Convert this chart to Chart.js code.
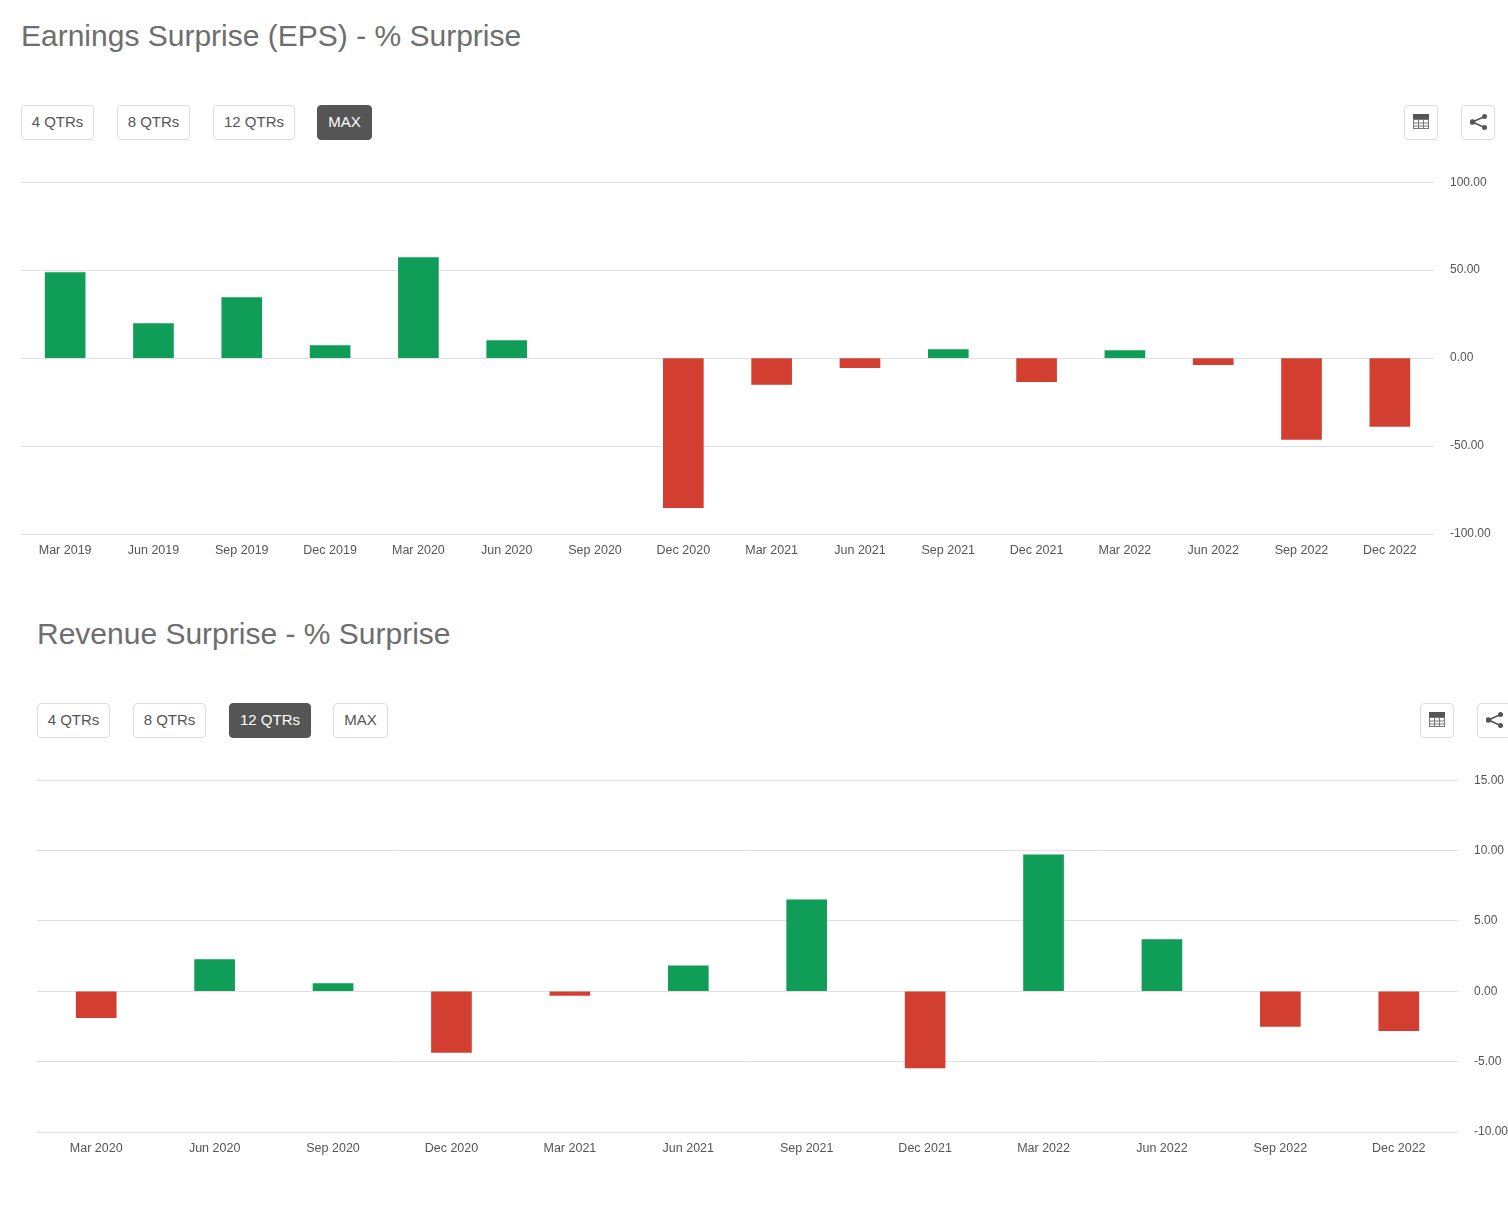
<!DOCTYPE html>
<html>
<head>
<meta charset="utf-8">
<title>Earnings and Revenue Surprise</title>
<script src="https://cdn.jsdelivr.net/npm/chart.js@4"></script>
<style>
  html, body { margin: 0; padding: 0; background: #fff; overflow: hidden; }
  body { width: 1508px; height: 1208px; position: relative; font-family: "Liberation Sans", Arial, sans-serif; }
  h2 { position: absolute; margin: 0; font-size: 30px; font-weight: 400; line-height: 36px; color: #6e6e6e; white-space: nowrap; }
  .btn {
    position: absolute; box-sizing: border-box; height: 35px; line-height: 32px; text-align: center;
    font-size: 15px; color: #555; background: #fff; border: 1px solid #ddd; border-radius: 4px;
  }
  .btn.active { background: #555; border-color: #555; color: #fff; }
  .icon { width: 34px; }
  .icon svg { position: absolute; left: 8px; top: 8px; }
  .chart-box { position: absolute; }
  .chart-box canvas { display: block; }
</style>
</head>
<body>
  <h2 style="left:21px;top:18px">Earnings Surprise (EPS) - % Surprise</h2>
  <div class="btn" style="left:21px;top:105px;width:73px">4 QTRs</div>
  <div class="btn" style="left:117px;top:105px;width:73px">8 QTRs</div>
  <div class="btn" style="left:213px;top:105px;width:82px">12 QTRs</div>
  <div class="btn active" style="left:317px;top:105px;width:55px">MAX</div>
  <div class="btn icon" style="left:1404px;top:105px"><svg width="16" height="16" viewBox="0 0 16 16"><use href="#tableIcon"/></svg></div>
  <div class="btn icon" style="left:1461px;top:105px"><svg width="18" height="18" viewBox="0 0 18 18"><use href="#shareIcon"/></svg></div>
  <div class="chart-box" style="left:21px;top:159px;width:1487px;height:411px"><canvas id="epsChart"></canvas></div>

  <h2 style="left:37px;top:616px">Revenue Surprise - % Surprise</h2>
  <div class="btn" style="left:37px;top:703px;width:73px">4 QTRs</div>
  <div class="btn" style="left:133px;top:703px;width:73px">8 QTRs</div>
  <div class="btn active" style="left:229px;top:703px;width:82px">12 QTRs</div>
  <div class="btn" style="left:333px;top:703px;width:55px">MAX</div>
  <div class="btn icon" style="left:1420px;top:703px"><svg width="16" height="16" viewBox="0 0 16 16"><use href="#tableIcon"/></svg></div>
  <div class="btn icon" style="left:1477px;top:703px"><svg width="18" height="18" viewBox="0 0 18 18"><use href="#shareIcon"/></svg></div>
  <div class="chart-box" style="left:37px;top:757px;width:1471px;height:411px"><canvas id="revenueChart"></canvas></div>

  <svg width="0" height="0" style="position:absolute">
    <defs>
      <g id="tableIcon">
        <rect x="0" y="0" width="16" height="15" fill="#777"/>
        <rect x="0" y="0" width="16" height="5" fill="#555"/>
        <g fill="#fff">
          <rect x="1" y="6" width="4" height="2.5"/><rect x="6" y="6" width="4" height="2.5"/><rect x="11" y="6" width="4" height="2.5"/>
          <rect x="1" y="9.5" width="4" height="2"/><rect x="6" y="9.5" width="4" height="2"/><rect x="11" y="9.5" width="4" height="2"/>
          <rect x="1" y="12.5" width="4" height="1.5"/><rect x="6" y="12.5" width="4" height="1.5"/><rect x="11" y="12.5" width="4" height="1.5"/>
        </g>
      </g>
      <g id="shareIcon" fill="#555" stroke="#555">
        <line x1="2.5" y1="8" x2="14.5" y2="2.5" stroke-width="1.6"/>
        <line x1="2.5" y1="8" x2="14.5" y2="13.5" stroke-width="1.6"/>
        <circle cx="2.5" cy="8" r="2.8" stroke="none"/>
        <circle cx="14.5" cy="2.5" r="2.5" stroke="none"/>
        <circle cx="14.5" cy="13.5" r="2.5" stroke="none"/>
      </g>
    </defs>
  </svg>

<script>
// ------------------ DATA ------------------
const epsQuarters = ["Mar 2019", "Jun 2019", "Sep 2019", "Dec 2019", "Mar 2020", "Jun 2020", "Sep 2020", "Dec 2020",
  "Mar 2021", "Jun 2021", "Sep 2021", "Dec 2021", "Mar 2022", "Jun 2022", "Sep 2022", "Dec 2022"];
// Sep 2020 has no visible bar
const epsSurprise = [48.6, 19.6, 34.4, 7.1, 57.1, 9.9, null, -85, -15, -5.4, 4.8, -13.4, 4.3, -3.7, -46.3, -38.9];
const epsTicks = [100, 50, 0, -50, -100];

const revenueQuarters = ["Mar 2020", "Jun 2020", "Sep 2020", "Dec 2020", "Mar 2021", "Jun 2021", "Sep 2021", "Dec 2021",
  "Mar 2022", "Jun 2022", "Sep 2022", "Dec 2022"];
const revenueSurprise = [-1.87, 2.25, 0.55, -4.35, -0.3, 1.8, 6.5, -5.45, 9.7, 3.67, -2.5, -2.8];
const revenueTicks = [15, 10, 5, 0, -5, -10];

// ------------------ CHARTS ------------------
const GREEN = "#0f9d58";
const RED = "#d23f31";
const GRID = "#e0e0e0";
const LABEL = "#555";

function drawSurpriseChart(canvasId, labels, values, ticks, axisWidth) {
  new Chart(document.getElementById(canvasId), {
    type: "bar",
    data: {
      labels: labels,
      datasets: [{
        data: values,
        barThickness: 40,
        backgroundColor: values.map(v => (v < 0 ? RED : GREEN)),
      }],
    },
    options: {
      responsive: true,
      maintainAspectRatio: false,
      animation: false,
      plugins: { legend: { display: false } },
      scales: {
        x: {
          grid: { display: false, drawTicks: false },
          border: { display: false },
          ticks: { color: LABEL, font: { family: "Liberation Sans", size: 12.5 }, padding: 9, maxRotation: 0, autoSkip: false },
          afterFit: axis => { axis.height = 36; },
        },
        y: {
          position: "right",
          min: ticks[ticks.length - 1],
          max: ticks[0],
          afterBuildTicks: axis => { axis.ticks = ticks.map(value => ({ value })); },
          grid: { color: GRID, drawTicks: false },
          border: { display: false },
          ticks: {
            color: LABEL,
            font: { family: "Liberation Sans", size: 12 },
            padding: 16,
            crossAlign: "near",
            callback: value => value.toFixed(2),
          },
          afterFit: axis => { axis.width = axisWidth; },
        },
      },
    },
  });
}

drawSurpriseChart("epsChart", epsQuarters, epsSurprise, epsTicks, 74);
drawSurpriseChart("revenueChart", revenueQuarters, revenueSurprise, revenueTicks, 50);
</script>
</body>
</html>
